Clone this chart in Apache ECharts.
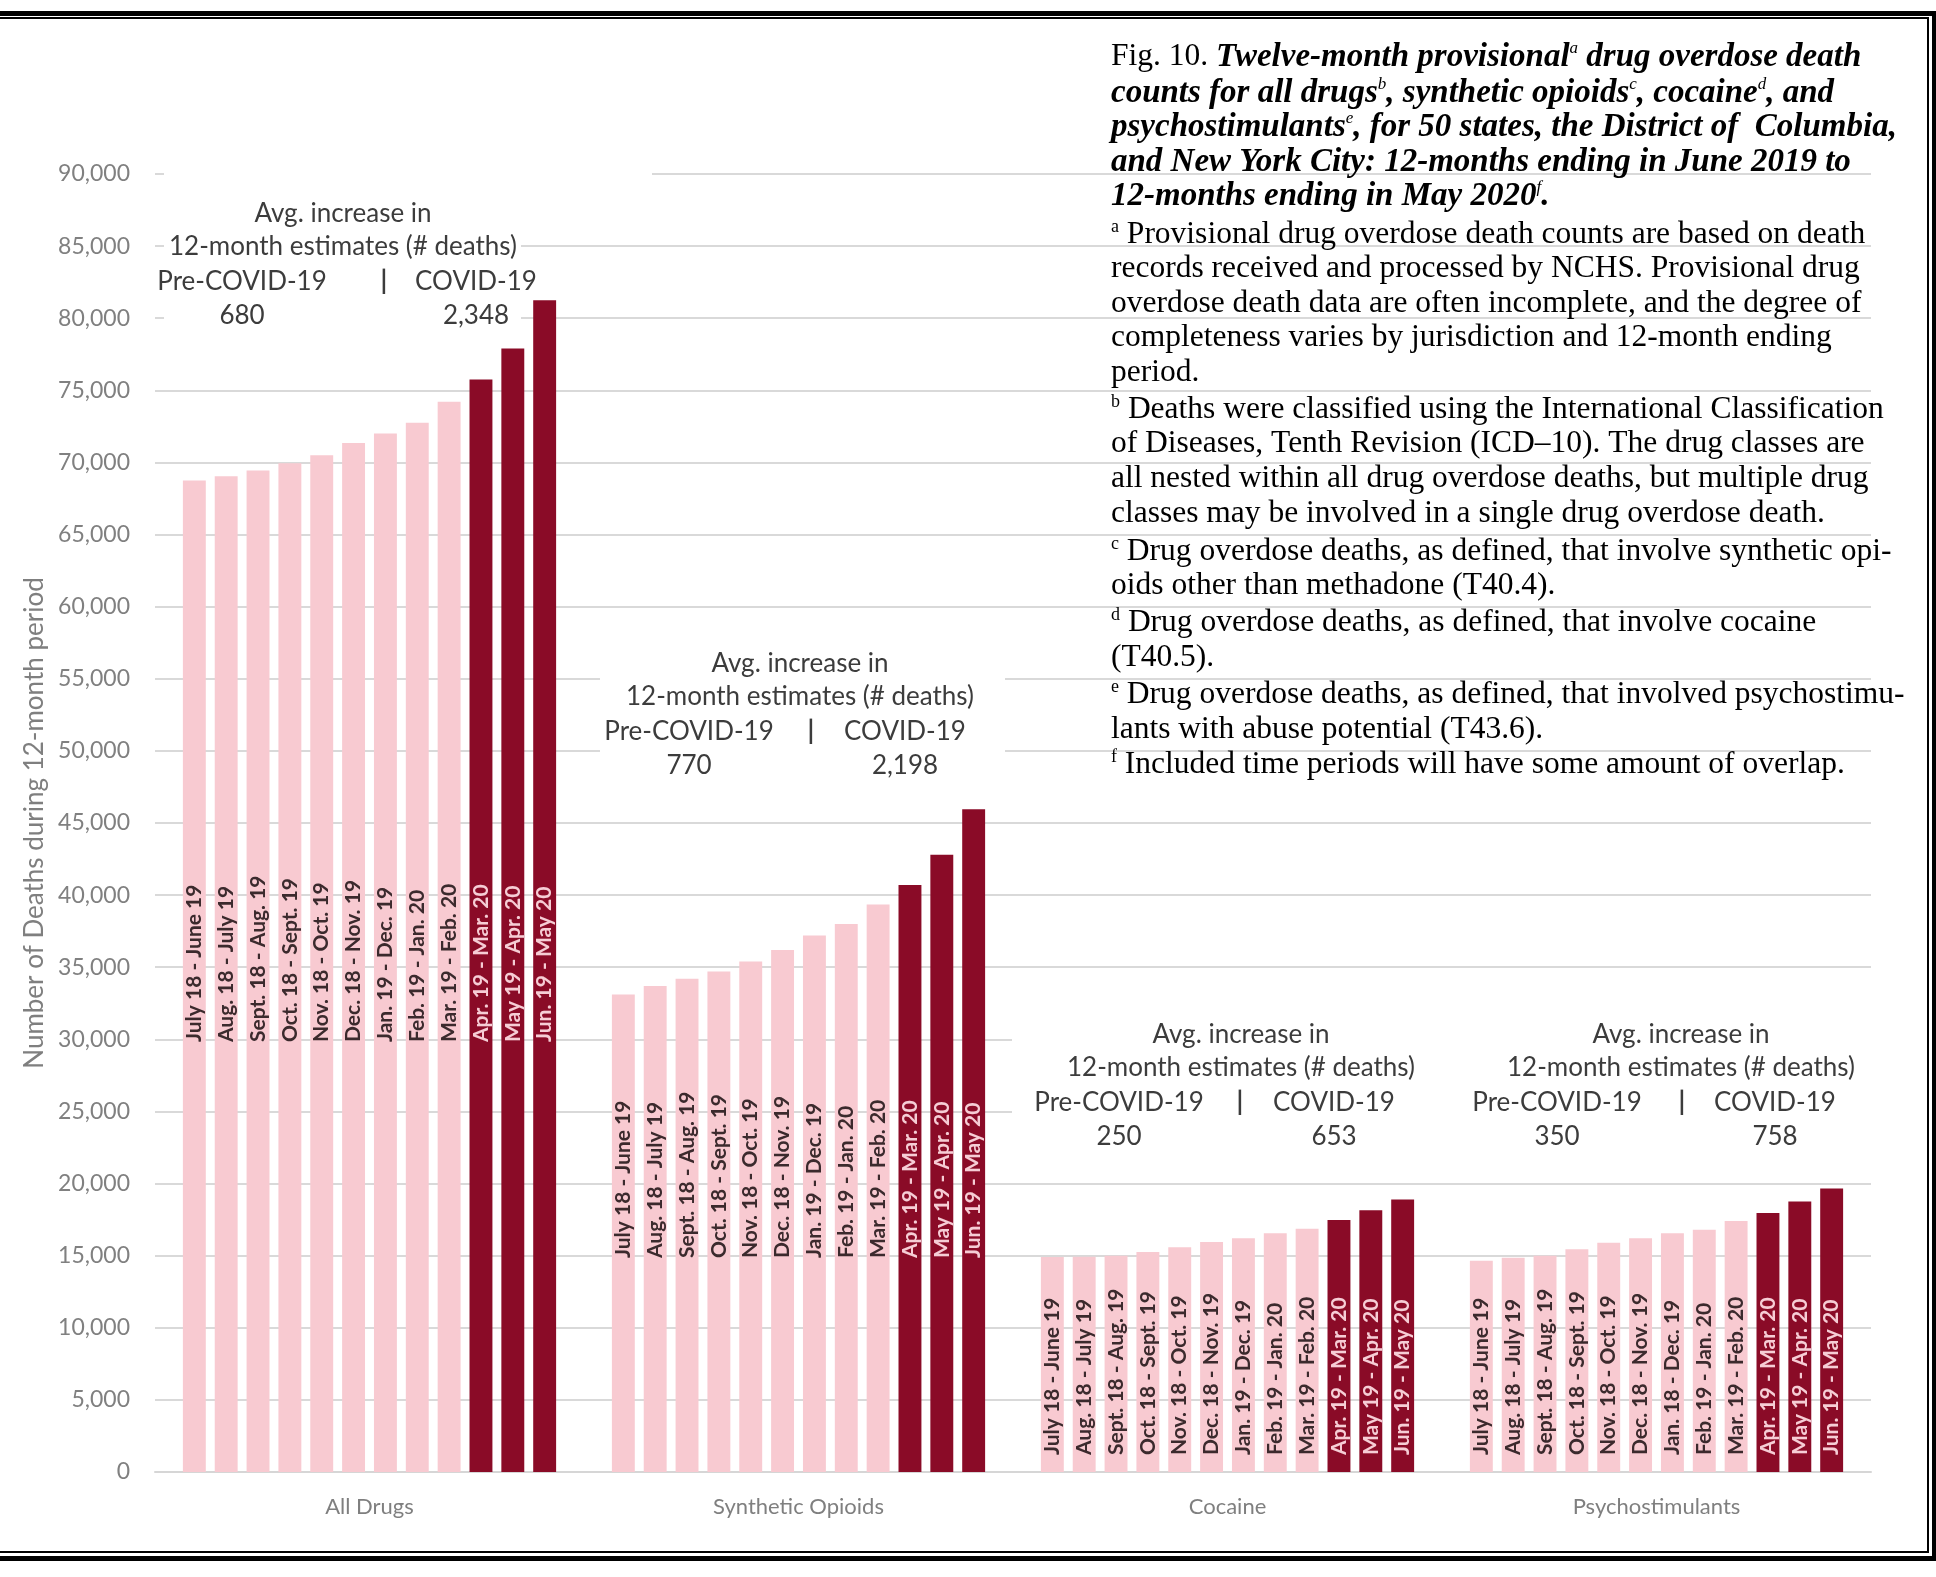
<!DOCTYPE html>
<html>
<head>
<meta charset="utf-8">
<script src="https://cdn.jsdelivr.net/npm/echarts@6/dist/echarts.min.js"></script>
<style>
  html, body { margin: 0; padding: 0; background: #fff; }
  #chart { width: 1936px; height: 1577px; }
</style>
</head>
<body>
<div id="chart"></div>
<script>
// categories and 12-month periods
const categories = ["All Drugs", "Synthetic Opioids", "Cocaine", "Psychostimulants"];
const periods = [
  "July 18 - June 19", "Aug. 18 - July 19", "Sept. 18 - Aug. 19", "Oct. 18 - Sept. 19",
  "Nov. 18 - Oct. 19", "Dec. 18 - Nov. 19", "Jan. 19 - Dec. 19", "Feb. 19 - Jan. 20",
  "Mar. 19 - Feb. 20", "Apr. 19 - Mar. 20", "May 19 - Apr. 20", "Jun. 19 - May 20",
];
// the psychostimulants panel has its own (misprinted) labels
const psychoPeriods = [
  "July 18 - June 19", "Aug. 18 - July 19", "Sept. 18 - Aug. 19", "Oct. 18 - Sept. 19",
  "Nov. 18 - Oct. 19", "Dec. 18 - Nov. 19", "Jan. 18 - Dec. 19", "Feb. 19 - Jan. 20",
  "Mar. 19 - Feb. 20", "Apr. 19 - Mar. 20", "May 19 - Apr. 20", "Jun. 19 - May 20",
];

// deaths during each 12-month period
const allDrugs = [68750, 69050, 69450, 69950, 70500, 71350, 72000, 72750, 74200, 75750, 77900, 81250];
const synthOpioids = [33100, 33700, 34200, 34700, 35400, 36200, 37200, 38000, 39350, 40700, 42800, 45950];
const cocaine = [14900, 14920, 15000, 15250, 15580, 15950, 16200, 16550, 16870, 17480, 18150, 18900];
const psychostim = [14650, 14850, 15000, 15450, 15900, 16200, 16550, 16800, 17400, 17950, 18750, 19650];

// avg increase in 12-month estimates
const avgPre = ["680", "770", "250", "350"];
const avgCovid = ["2,348", "2,198", "653", "758"];

const yTicks = { min: 0, max: 90000, interval: 5000 };

const PINK = "#f8cad1";
const DARK = "#8a0b27";
const SANS = "Lato, 'Open Sans', sans-serif";
const NARROW = "'Liberation Sans Narrow', Lato, sans-serif";
const SERIF = "'Liberation Serif', 'DejaVu Serif', serif";

// label start height above the baseline, per panel (px)
const labelLift = [430, 214, 17, 17];

// annotation layout, per panel: [centre of heading, pre x, bar x, covid x, top y]
const noteLayout = [
  [343, 242, 384, 476, 214],
  [800, 689, 811, 905, 664],
  [1241, 1119, 1240, 1334, 1035],
  [1681, 1557, 1682, 1775, 1035],
];
// white boxes behind annotations (hide gridlines)
const noteBoxes = [
  [164, 160, 357, 180],
  [164, 160, 488, 30],
  [600, 630, 405, 165],
  [1012, 1005, 870, 140],
];

const groups = [allDrugs, synthOpioids, cocaine, psychostim];

const series = periods.map((p, i) => ({
  name: p,
  type: "bar",
  barGap: "39%",
  barCategoryGap: "13%",
  itemStyle: { color: i >= 9 ? DARK : PINK },
  label: {
    show: true,
    position: "insideBottom",
    rotate: 90,
    align: "left",
    verticalAlign: "middle",
    color: i >= 9 ? "#f6cdd5" : "#3b2a2d",
    fontFamily: NARROW,
    fontSize: 21,
    fontWeight: "bold",
    formatter: (prm) => (prm.dataIndex === 3 ? psychoPeriods : periods)[prm.seriesIndex],
  },
  data: groups.map((g, gi) => ({ value: g[i], label: { distance: labelLift[gi] } })),
}));

// annotation text
const graphics = [];
noteBoxes.forEach(([x, y, w, h]) => {
  graphics.push({ type: "rect", z: 1, silent: true, shape: { x, y, width: w, height: h }, style: { fill: "#fff" } });
});
const noteText = (x, y, text, weight) => ({
  type: "text", z: 10, x, y, silent: true,
  style: {
    text, fill: "#3c3c3c", font: `${weight || "normal"} 26px ${SANS}`,
    align: "center", verticalAlign: "middle", textAlign: "center", textVerticalAlign: "middle",
  },
});
noteLayout.forEach(([cx, px, bx, vx, ty], k) => {
  graphics.push(noteText(cx, ty, "Avg. increase in"));
  graphics.push(noteText(cx, ty + 33, "12-month estimates (# deaths)"));
  graphics.push(noteText(px, ty + 68, "Pre-COVID-19"));
  graphics.push(noteText(bx, ty + 68, "|", "bold"));
  graphics.push(noteText(vx, ty + 68, "COVID-19"));
  graphics.push(noteText(px, ty + 102, avgPre[k]));
  graphics.push(noteText(vx, ty + 102, avgCovid[k]));
});

// caption and footnotes
const titleLines = [
  "{r|Fig. 10. }{i|Twelve-month provisional}{si|a}{i| drug overdose death}",
  "{i|counts for all drugs}{si|b}{i|, synthetic opioids}{si|c}{i|, cocaine}{si|d}{i|, and}",
  "{i|psychostimulants}{si|e}{i|, for 50 states, the District of  Columbia,}",
  "{i|and New York City: 12-months ending in June 2019 to}",
  "{i|12-months ending in May 2020}{si|f}{i|.}",
];
const noteLines = [
  "{s|a}{r| Provisional drug overdose death counts are based on death}",
  "{r|records received and processed by NCHS. Provisional drug}",
  "{r|overdose death data are often incomplete, and the degree of}",
  "{r|completeness varies by jurisdiction and 12-month ending}",
  "{r|period.}",
  "{s|b}{r| Deaths were classified using the International Classification}",
  "{r|of Diseases, Tenth Revision (ICD\u201310). The drug classes are}",
  "{r|all nested within all drug overdose deaths, but multiple drug}",
  "{r|classes may be involved in a single drug overdose death.}",
  "{s|c}{r| Drug overdose deaths, as defined, that involve synthetic opi-}",
  "{r|oids other than methadone (T40.4).}",
  "{s|d}{r| Drug overdose deaths, as defined, that involve cocaine}",
  "{r|(T40.5).}",
  "{s|e}{r| Drug overdose deaths, as defined, that involved psychostimu-}",
  "{r|lants with abuse potential (T43.6).}",
  "{s|f}{r| Included time periods will have some amount of overlap.}",
];
const rich = {
  r: { fontFamily: SERIF, fontSize: 31.5, lineHeight: 34, color: "#111" },
  i: { fontFamily: SERIF, fontSize: 33, fontStyle: "italic", fontWeight: "bold", lineHeight: 34, color: "#111" },
  si: { fontFamily: SERIF, fontSize: 17, fontStyle: "italic", lineHeight: 16, verticalAlign: "top", color: "#111" },
  s: { fontFamily: SERIF, fontSize: 18, lineHeight: 17, verticalAlign: "top", color: "#111" },
};
const titleY = [57, 93, 127, 162, 196];
const noteY = [235, 269, 304, 338, 373, 410, 444, 479, 514, 552, 586, 623, 658, 695, 730, 765];
titleLines.forEach((t, k) => graphics.push({
  type: "text", z: 10, x: 1111, y: titleY[k], silent: true,
  style: { text: t, rich, align: "left", verticalAlign: "middle", textAlign: "left", textVerticalAlign: "middle" },
}));
noteLines.forEach((t, k) => graphics.push({
  type: "text", z: 10, x: 1111, y: noteY[k], silent: true,
  style: { text: t, rich, align: "left", verticalAlign: "middle", textAlign: "left", textVerticalAlign: "middle" },
}));

// double page frame
const frame = [
  [0, 11, 1936, 5], [0, 17, 1929, 2],
  [0, 1556, 1936, 5], [0, 1551, 1929, 2],
  [1932, 11, 4, 1550], [1927, 17, 2, 1536],
];
frame.forEach(([x, y, w, h]) => graphics.push({
  type: "rect", z: 20, silent: true, shape: { x, y, width: w, height: h }, style: { fill: "#000" },
}));

const chart = echarts.init(document.getElementById("chart"));
chart.setOption({
  animation: false,
  backgroundColor: "#fff",
  grid: { left: 155, right: 65, top: 174, bottom: 105 },
  xAxis: {
    type: "category",
    data: categories,
    axisTick: { show: false },
    axisLine: { lineStyle: { color: "#d6d6d6", width: 2 } },
    axisLabel: { color: "#7f7f7f", fontFamily: SANS, fontSize: 22, margin: 24 },
  },
  yAxis: {
    type: "value",
    min: yTicks.min,
    max: yTicks.max,
    interval: yTicks.interval,
    name: "Number of Deaths during 12-month period",
    nameLocation: "middle",
    nameGap: 99,
    nameTextStyle: { color: "#7f7f7f", fontFamily: SANS, fontSize: 26 },
    axisLine: { show: false },
    axisTick: { show: false },
    splitLine: { lineStyle: { color: "#d9d9d9", width: 2 } },
    axisLabel: {
      color: "#808080", fontFamily: SANS, fontSize: 23, margin: 25,
      formatter: (v) => v.toLocaleString("en-US"),
    },
  },
  series,
  graphic: { elements: graphics },
});
</script>
</body>
</html>
